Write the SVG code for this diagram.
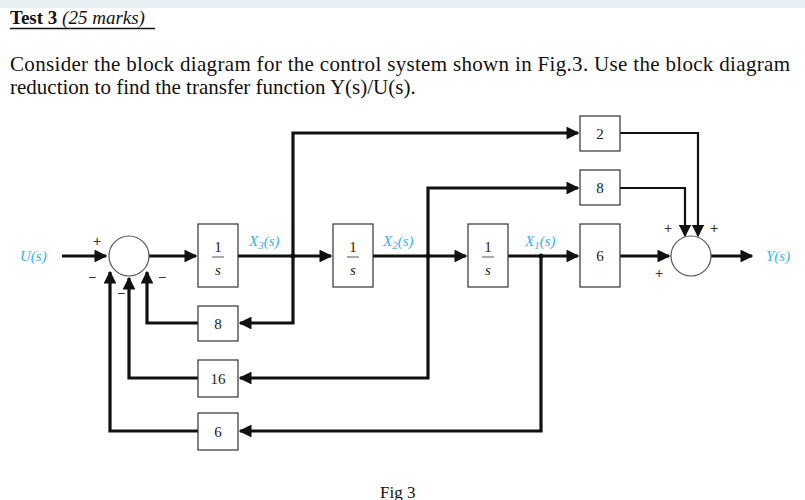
<svg xmlns="http://www.w3.org/2000/svg" width="805" height="500" viewBox="0 0 805 500">
<style>
.t{font-family:"Liberation Serif",serif;fill:#111}
.blk{fill:#fff;stroke:#333;stroke-width:1.2}
.sum{fill:#fff;stroke:#555;stroke-width:1.2}
.w{fill:none;stroke:#111;stroke-width:3.2}
.wt{fill:none;stroke:#111;stroke-width:2.2}
.bt{font-family:"Liberation Serif",serif;font-size:15px;fill:#222;text-anchor:middle}
.lb{font-family:"Liberation Serif",serif;font-style:italic;font-size:15px;fill:#3ab0e8}
.sg{font-family:"Liberation Sans",sans-serif;font-size:14px;fill:#333;text-anchor:middle}
</style>
<defs>
<marker id="a" viewBox="0 0 10 10" refX="9" refY="5" markerWidth="4" markerHeight="4" orient="auto" markerUnits="strokeWidth"><path d="M0,0L10,5L0,10z" fill="#111"/></marker>
<marker id="b" viewBox="0 0 10 10" refX="9" refY="5" markerWidth="5.5" markerHeight="5.5" orient="auto" markerUnits="strokeWidth"><path d="M0,0L10,5L0,10z" fill="#111"/></marker>
</defs>
<rect x="0" y="0" width="805" height="8" fill="#e8eff3"/>
<text class="t" x="10" y="24" font-size="19"><tspan font-weight="bold">Test 3 </tspan><tspan font-style="italic">(25 marks)</tspan></text>
<line x1="10" y1="28.5" x2="155" y2="28.5" stroke="#111" stroke-width="1.3"/>
<text class="t" x="10" y="71" font-size="21" textLength="780" lengthAdjust="spacing">Consider the block diagram for the control system shown in Fig.3. Use the block diagram</text>
<text class="t" x="10" y="94" font-size="21">reduction to find the transfer function Y(s)/U(s).</text>
<g id="connectors">
<path class="w" d="M62,256H106" marker-end="url(#a)"/>
<path class="w" d="M149,256H196" marker-end="url(#a)"/>
<path class="w" d="M238,256H331" marker-end="url(#a)"/>
<path class="w" d="M373,256H466" marker-end="url(#a)"/>
<path class="w" d="M508,256H578" marker-end="url(#a)"/>
<path class="w" d="M293,256V133H578" marker-end="url(#a)"/>
<path class="w" d="M293,256V323H240" marker-end="url(#a)"/>
<path class="w" d="M428,256V188H578" marker-end="url(#a)"/>
<path class="w" d="M428,256V378H240" marker-end="url(#a)"/>
<path class="w" d="M541,256V431H240" marker-end="url(#a)"/>
<path class="w" d="M198,323H147V272" marker-end="url(#a)"/>
<path class="w" d="M198,378H129V278" marker-end="url(#a)"/>
<path class="w" d="M198,431H110V272" marker-end="url(#a)"/>
<path class="w" d="M620,256H669" marker-end="url(#a)"/>
<path class="wt" d="M620,133H698V236" marker-end="url(#b)"/>
<path class="wt" d="M620,188H685V236" marker-end="url(#b)"/>
<path class="w" d="M711,256H752" marker-end="url(#a)"/>
<circle cx="293" cy="256" r="2.5" fill="#111"/>
<circle cx="428" cy="256" r="2.5" fill="#111"/>
<circle cx="541" cy="256" r="2.5" fill="#111"/>
</g>
<g id="sum1"><circle class="sum" cx="129" cy="256" r="20"/>
<text class="sg" x="97" y="246">+</text><text class="sg" x="92" y="282">−</text><text class="sg" x="121" y="298">−</text><text class="sg" x="162" y="282">−</text></g>
<g id="sum2"><circle class="sum" cx="691" cy="256" r="20"/>
<text class="sg" x="668" y="233">+</text><text class="sg" x="714" y="233">+</text><text class="sg" x="659" y="278">+</text></g>
<g id="int1"><rect class="blk" x="198" y="224" width="40" height="63"/><text class="bt" x="218" y="252">1</text><line x1="212" y1="257" x2="224" y2="257" stroke="#555"/><text class="bt" x="218" y="275" font-style="italic">s</text></g>
<g id="int2"><rect class="blk" x="333" y="224" width="40" height="63"/><text class="bt" x="353" y="252">1</text><line x1="347" y1="257" x2="359" y2="257" stroke="#555"/><text class="bt" x="353" y="275" font-style="italic">s</text></g>
<g id="int3"><rect class="blk" x="468" y="224" width="40" height="63"/><text class="bt" x="488" y="252">1</text><line x1="482" y1="257" x2="494" y2="257" stroke="#555"/><text class="bt" x="488" y="275" font-style="italic">s</text></g>
<g id="g2"><rect class="blk" x="580" y="116" width="40" height="35"/><text class="bt" x="600" y="139">2</text></g>
<g id="g8top"><rect class="blk" x="580" y="170" width="40" height="35"/><text class="bt" x="600" y="193">8</text></g>
<g id="g6"><rect class="blk" x="580" y="224" width="40" height="63"/><text class="bt" x="600" y="261">6</text></g>
<g id="f8"><rect class="blk" x="198" y="306" width="40" height="35"/><text class="bt" x="218" y="329">8</text></g>
<g id="f16"><rect class="blk" x="198" y="360" width="40" height="37"/><text class="bt" x="218" y="384">16</text></g>
<g id="f6"><rect class="blk" x="198" y="413" width="40" height="37"/><text class="bt" x="218" y="437">6</text></g>
<g id="labels">
<text class="lb" x="20" y="261">U(s)</text>
<text class="lb" x="249" y="246">X<tspan font-size="11" dy="3">3</tspan><tspan dy="-3">(s)</tspan></text>
<text class="lb" x="383" y="246">X<tspan font-size="11" dy="3">2</tspan><tspan dy="-3">(s)</tspan></text>
<text class="lb" x="525" y="246">X<tspan font-size="11" dy="3">1</tspan><tspan dy="-3">(s)</tspan></text>
<text class="lb" x="766" y="261">Y(s)</text>
</g>
<text class="t" x="380" y="498" font-size="17">Fig 3</text>
</svg>
